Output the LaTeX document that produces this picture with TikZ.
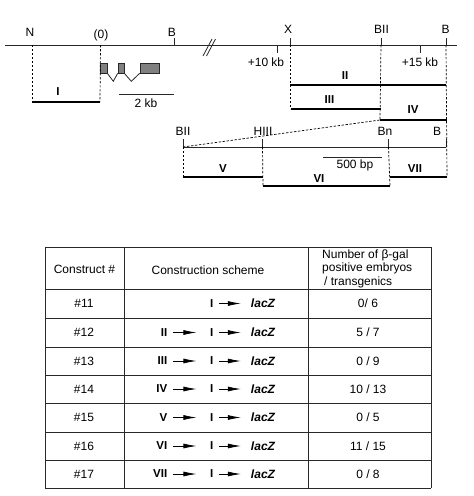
\documentclass[tikz,border=0pt]{standalone}
\usepackage{fontspec}
\setmainfont{Liberation Sans}
\usepackage{tikz}
\usetikzlibrary{arrows.meta}
\definecolor{ExonGray}{RGB}{128,128,128}
\definecolor{LineGray}{RGB}{40,40,40}
\tikzset{
	lbl/.style={inner sep=0pt,font=\fontsize{12}{13.5}\selectfont},
	seg/.style={inner sep=0pt,font=\fontsize{11.5}{13}\selectfont\bfseries},
	map/.style={draw=LineGray,line width=0.8pt},
	drop/.style={draw=black,line width=0.7pt,dash pattern=on 2.4pt off 1.6pt},
	bar/.style={draw=black,line width=2pt},
	exon/.style={draw=LineGray,fill=ExonGray,line width=0.6pt,inner sep=0pt,minimum height=10pt},
	grid/.style={draw=LineGray,line width=0.9pt},
	promo/.style={draw=black,line width=0.7pt,-{Latex[length=13pt,width=5pt]}},
}
\begin{document}
\begin{tikzpicture}[x=1pt,y=-1pt]
	\useasboundingbox (0,0) rectangle (474,496);
	% upper map
	\coordinate (mapL) at (5,45);
	\coordinate (mapR) at (457,45);
	\draw[map] (mapL) -- (mapR);
	\coordinate (N) at (32,45);
	\coordinate (O) at (100.5,45);
	\coordinate (B1) at (174,45);
	\coordinate (X) at (290.5,45);
	\coordinate (kbA) at (277,45);
	\coordinate (BIIa) at (381,45);
	\coordinate (kbB) at (420,45);
	\coordinate (B2) at (446,45);
	\node[lbl] (Nlbl) at (30,32) {N};
	\node[lbl] (Olbl) at (101,35) {(0)};
	\node[lbl] (B1lbl) at (172,32) {B};
	\node[lbl] (Xlbl) at (288,29.5) {X};
	\node[lbl] (BIIlbl) at (381.5,29.5) {BII};
	\node[lbl] (B2lbl) at (445.5,29.5) {B};
	\node[lbl] (kbAlbl) at (266,62) {+10 kb};
	\node[lbl] (kbBlbl) at (420,62) {+15 kb};
	\draw[map] (B1) -- ++(0,-7);
	\draw[map] (X) -- ++(0,-7);
	\draw[map] (BIIa) -- ++(0,-7);
	\draw[map] (B2) -- ++(0,-7);
	\draw[map] (kbA) -- ++(0,7.5);
	\draw[map] (kbB) -- ++(0,7.5);
	% break
	\coordinate (cutA) at (203,56);
	\coordinate (cutB) at (206.5,56);
	\draw[map] (cutA) -- ++(9,-17);
	\draw[map] (cutB) -- ++(9,-17);
	% gene
	\node[exon,minimum width=7pt] (ex1) at (103.5,68) {};
	\node[exon,minimum width=6pt] (ex2) at (121,68) {};
	\node[exon,minimum width=19pt] (ex3) at (149.5,68) {};
	\draw[map] (ex1.south east) -- ++(6,8) -- (ex2.south west);
	\draw[map] (ex2.south east) -- ++(7,8) -- (ex3.south west);
	\coordinate (kbL) at (119,94);
	\coordinate (kbR) at (174,94);
	\draw[map] (kbL) -- (kbR);
	\node[lbl] (kblbl) at (146,103) {2 kb};
	% fragments of the upper map
	\coordinate (Ia) at (32,101.5);
	\coordinate (Ib) at (100,101.5);
	\coordinate (IIa) at (290,85);
	\coordinate (IIb) at (446,85);
	\coordinate (IIIa) at (290.5,109);
	\coordinate (IIIb) at (381,109);
	\coordinate (IVa) at (380,120);
	\coordinate (IVb) at (446.5,120);
	\draw[drop] (N) -- (Ia);
	\draw[drop] (O) -- (Ib);
	\draw[drop] (X) -- (IIIa);
	\draw[drop] (BIIa) -- (IVa);
	\draw[bar] (Ia) -- (Ib);
	\draw[bar] (IIa) -- (IIb);
	\draw[bar] (IIIa) -- (IIIb);
	\draw[bar] (IVa) -- (IVb);
	\node[seg] (segI) at (58,92) {I};
	\node[seg] (segII) at (345,75.5) {II};
	\node[seg] (segIII) at (329.5,100) {III};
	\node[seg] (segIV) at (413,109.5) {IV};
	% lower map
	\coordinate (BIIb) at (183,147);
	\coordinate (HIII) at (262.5,147);
	\coordinate (Bn) at (388.5,147);
	\coordinate (B3) at (446,147);
	\draw[map] (BIIb) -- (B3);
	\draw[map] (BIIb) -- ++(0,-8);
	\draw[map] (HIII) -- ++(0,-8);
	\draw[map] (Bn) -- ++(0,-8);
	\draw[map] (B3) -- ++(0,-8);
	\node[lbl] (BIIblbl) at (183,131) {BII};
	\node[lbl] (HIIIlbl) at (263,131) {HIII};
	\node[lbl] (Bnlbl) at (385,131) {Bn};
	\node[lbl] (B3lbl) at (437,131) {B};
	\draw[drop] (BIIb) -- (IVa);
	\coordinate (Va) at (183,177);
	\coordinate (Vb) at (263,177);
	\coordinate (VIa) at (263,186);
	\coordinate (VIb) at (390,186);
	\coordinate (VIIa) at (390,177);
	\coordinate (VIIb) at (447,177);
	\draw[drop] (B2) -- (VIIb);
	\draw[drop] (BIIb) -- (Va);
	\draw[drop] (HIII) -- (VIa);
	\draw[drop] (Bn) -- (VIb);
	\draw[bar] (Va) -- (Vb);
	\draw[bar] (VIa) -- (VIb);
	\draw[bar] (VIIa) -- (VIIb);
	\node[seg] (segV) at (223,169) {V};
	\node[seg] (segVI) at (319,179) {VI};
	\node[seg] (segVII) at (415,169) {VII};
	\coordinate (bpL) at (323,157);
	\coordinate (bpR) at (382,157);
	\draw[map] (bpL) -- (bpR);
	\node[lbl] (bplbl) at (355,165.5) {500 bp};
	% table
	\foreach \yy in {247,289,318,347,375,403,432,460,488}
		\draw[grid] (45,\yy) -- (431,\yy);
	\foreach \xx in {45,124,308,431}
		\draw[grid] (\xx,247) -- (\xx,488);
	\node[lbl] (hdA) at (84.5,269) {Construct \#};
	\node[lbl] (hdB) at (208,270) {Construction scheme};
	\node[lbl,align=left,anchor=west] (hdC) at (322,268.5) {Number of β-gal\\positive embryos\\ \,/ transgenics};
	\foreach \n/\yy/\res in {11/303.5/{0/ 6},12/332.5/{5 / 7},13/361/{0 / 9},14/389/{10 / 13},15/417.5/{0 / 5},16/446/{11 / 15},17/474/{0 / 8}}{
		\node[lbl] (cid\n) at (84,\yy) {\#\n};
		\node[seg,anchor=east] (one\n) at (213.5,\yy) {I};
		\node[seg,font=\fontsize{12}{13.5}\selectfont\bfseries\itshape] (lac\n) at (263,\yy) {lacZ};
		\draw[promo,shorten <=5.5pt,shorten >=10pt] (one\n.east) -- (lac\n.west);
		\node[lbl] (res\n) at (368,\yy) {\res};
	}
	\foreach \n/\yy/\part in {12/332.5/II,13/361/III,14/389/IV,15/417.5/V,16/446/VI,17/474/VII}{
		\node[seg,anchor=east] (part\n) at (167.5,\yy) {\part};
		\draw[promo,shorten <=5.5pt,shorten >=13.5pt] (part\n.east) -- (one\n.west);
	}
\end{tikzpicture}
\end{document}
